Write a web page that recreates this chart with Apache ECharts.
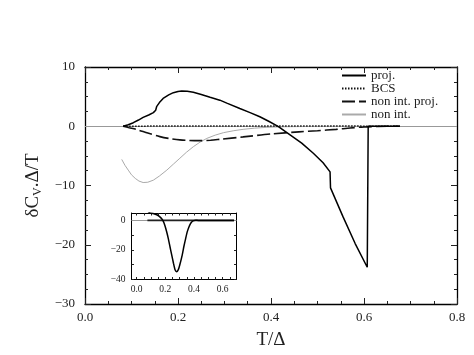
<!DOCTYPE html>
<html><head><meta charset="utf-8">
<script src="https://cdn.jsdelivr.net/npm/echarts@6/dist/echarts.min.js"></script>
<style>html,body{margin:0;padding:0;background:#fff}#c{width:474px;height:355px}</style>
</head><body><div id="c"></div>
<script>
// ---- data ----
const seriesNames = ['proj.', 'BCS', 'non int. proj.', 'non int.'];
const xTicksMain = [0, 0.2, 0.4, 0.6, 0.8];
const yTicksMain = [-30, -20, -10, 0, 10];
const projData = [[0.082,0],[0.093,0.25],[0.104,0.6],[0.115,1.05],[0.125,1.5],[0.137,1.9],[0.147,2.3],[0.152,2.7],[0.154,3.3],[0.16,4.0],[0.168,4.7],[0.18,5.3],[0.19,5.67],[0.2,5.88],[0.208,5.95],[0.22,5.9],[0.233,5.73],[0.25,5.35],[0.269,4.88],[0.29,4.4],[0.305,3.9],[0.333,3.0],[0.355,2.3],[0.376,1.6],[0.396,0.8],[0.416,-0.05],[0.441,-1.45],[0.466,-2.85],[0.491,-4.55],[0.512,-6.15],[0.527,-7.7],[0.528,-10.4],[0.555,-15.3],[0.581,-19.8],[0.607,-23.8],[0.609,0],[0.677,0]];
const bcsData = [[0.082,0],[0.2,0.05],[0.4,0.05],[0.6,0.02],[0.677,0]];
const nonIntProjData = [[0.082,0],[0.095,-0.25],[0.111,-0.55],[0.135,-1.15],[0.161,-1.75],[0.18,-2.05],[0.204,-2.3],[0.225,-2.4],[0.247,-2.43],[0.27,-2.35],[0.29,-2.2],[0.34,-1.8],[0.4,-1.3],[0.46,-0.95],[0.5,-0.75],[0.54,-0.52],[0.57,-0.3],[0.6,-0.12],[0.63,-0.03],[0.677,0]];
const nonIntData = [[0.079,-5.6],[0.086,-6.6],[0.093,-7.4],[0.1,-8.2],[0.108,-8.8],[0.116,-9.25],[0.125,-9.5],[0.135,-9.45],[0.147,-9.1],[0.16,-8.4],[0.176,-7.4],[0.19,-6.4],[0.204,-5.4],[0.218,-4.4],[0.233,-3.45],[0.248,-2.65],[0.262,-2.05],[0.28,-1.5],[0.298,-1.08],[0.32,-0.75],[0.34,-0.52],[0.365,-0.32],[0.391,-0.18],[0.43,-0.08],[0.5,-0.02],[0.677,0]];
// inset
const insetCurve = [[0.075,6.5],[0.093,5.1],[0.115,4.6],[0.14,3.8],[0.16,2.6],[0.175,1.1],[0.187,-0.8],[0.197,-3.4],[0.209,-7.5],[0.221,-12.3],[0.233,-18],[0.245,-23.5],[0.257,-29],[0.268,-33.4],[0.279,-34.7],[0.29,-33.5],[0.3,-30.5],[0.318,-23.5],[0.33,-17.5],[0.342,-12.3],[0.353,-7.8],[0.365,-4.5],[0.375,-2.4],[0.384,-1.1],[0.398,-0.2],[0.412,0.1],[0.43,0],[0.68,0]];
const insetFlat = [[0.075,0],[0.68,0]];
const insetXLabels = [0, 0.2, 0.4, 0.6];
const insetXTicks = [0,0.05,0.1,0.15,0.2,0.25,0.3,0.35,0.4,0.45,0.5,0.55,0.6,0.65];
const insetYLabels = [-40, -20, 0];
const insetYTicks = [-40, -30, -20, -10, 0];

const serif = 'Liberation Serif';
const minus = v => String(v).replace('-', '\u2212');
const chart = echarts.init(document.getElementById('c'), null, {renderer: 'canvas'});
const tickCol = '#222';
function mainX(pos, showLabel) {
  return {
    type: 'value', gridIndex: 0, position: pos, min: 0, max: 0.8, interval: 0.2,
    axisLine: {show: true, onZero: false, lineStyle: {color: '#000', width: 1.3}},
    axisTick: {show: true, inside: true, length: 6, lineStyle: {color: tickCol}},
    minorTick: {show: true, splitNumber: 4, length: 3, lineStyle: {color: tickCol}},
    splitLine: {show: false},
    axisLabel: {show: showLabel, margin: 7, fontFamily: serif, fontSize: 13, color: '#222', formatter: v => v.toFixed(1)},
    name: showLabel ? 'T/\u0394' : '', nameLocation: 'middle', nameGap: 27,
    nameTextStyle: {fontFamily: serif, fontSize: 19, color: '#222'}
  };
}
function mainY(pos, showLabel) {
  return {
    type: 'value', gridIndex: 0, position: pos, min: -30, max: 10, interval: 10,
    axisLine: {show: true, onZero: false, lineStyle: {color: '#000', width: 1.3}},
    axisTick: {show: true, inside: true, length: 6, lineStyle: {color: tickCol}},
    minorTick: {show: true, splitNumber: 4, length: 3, lineStyle: {color: tickCol}},
    splitLine: {show: false},
    axisLabel: {show: showLabel, margin: 10, fontFamily: serif, fontSize: 13, color: '#222', formatter: minus},
    name: showLabel ? '{a|\u03b4C}{s|V}{a|.\u0394/T}' : '', nameLocation: 'middle', nameGap: 41, nameRotate: 90,
    nameTextStyle: {rich: {
      a: {fontFamily: serif, fontSize: 19, color: '#222'},
      s: {fontFamily: serif, fontSize: 12, color: '#222', padding: [9, 0, 0, 0]}
    }}
  };
}
function insetX(pos, showLabel) {
  return {
    type: 'value', gridIndex: 1, position: pos, min: -0.036, max: 0.697,
    axisLine: {show: true, onZero: false, lineStyle: {color: '#000', width: 1}},
    axisTick: {show: true, inside: true, length: 2.5, customValues: insetXTicks, lineStyle: {color: tickCol}},
    splitLine: {show: false},
    axisLabel: {show: showLabel, margin: 5, fontFamily: serif, fontSize: 9.5, color: '#222', customValues: insetXLabels, formatter: v => v.toFixed(1)}
  };
}
function insetY(pos, showLabel) {
  return {
    type: 'value', gridIndex: 1, position: pos, min: -40, max: 5,
    axisLine: {show: true, onZero: false, lineStyle: {color: '#000', width: 1}},
    axisTick: {show: true, inside: true, length: 2.5, customValues: insetYTicks, lineStyle: {color: tickCol}},
    splitLine: {show: false},
    axisLabel: {show: showLabel, margin: 6, fontFamily: serif, fontSize: 9.5, color: '#222', customValues: insetYLabels, formatter: minus}
  };
}
const zeroLine = {silent: true, z: 1, symbol: 'none', label: {show: false}, lineStyle: {color: '#999', width: 1, type: 'solid'}, data: [{yAxis: 0}]};
chart.setOption({
  animation: false,
  backgroundColor: '#fff',
  grid: [
    {left: 85, top: 67, right: 17, bottom: 51},
    {left: 131.5, top: 213, width: 105, height: 66.5}
  ],
  xAxis: [mainX('bottom', true), mainX('top', false), insetX('bottom', true), insetX('top', false)],
  yAxis: [mainY('left', true), mainY('right', false), insetY('left', true), insetY('right', false)],
  legend: {
    orient: 'vertical', left: 341, top: 69, padding: 0, itemWidth: 24, itemHeight: 10, itemGap: 0,
    itemStyle: {opacity: 0, borderWidth: 0},
    textStyle: {fontFamily: serif, fontSize: 13, color: '#222', lineHeight: 12.3},
    data: seriesNames
  },
  series: [
    {name: 'zero', type: 'line', z: 1, xAxisIndex: 0, yAxisIndex: 0, data: [], markLine: zeroLine},
    {name: seriesNames[3], type: 'line', xAxisIndex: 0, yAxisIndex: 0, symbol: 'none', data: nonIntData,
     lineStyle: {color: '#aaa', width: 1}, itemStyle: {color: '#aaa'}},
    {name: seriesNames[2], type: 'line', xAxisIndex: 0, yAxisIndex: 0, symbol: 'none', data: nonIntProjData, smooth: 0.3,
     lineStyle: {color: '#111', width: 1.6, type: [13, 4]}, itemStyle: {color: '#111'}},
    {name: seriesNames[1], type: 'line', xAxisIndex: 0, yAxisIndex: 0, symbol: 'none', data: bcsData,
     lineStyle: {color: '#111', width: 1.5, type: [1.5, 1.5]}, itemStyle: {color: '#111'}},
    {name: seriesNames[0], type: 'line', xAxisIndex: 0, yAxisIndex: 0, symbol: 'none', data: projData,
     lineStyle: {color: '#000', width: 1.5}, itemStyle: {color: '#000'}},
    {name: 'inset zero', type: 'line', z: 1, xAxisIndex: 2, yAxisIndex: 2, data: [], markLine: zeroLine},
    {name: 'inset flat', type: 'line', z: 3, xAxisIndex: 2, yAxisIndex: 2, symbol: 'none', data: insetFlat,
     lineStyle: {color: '#222', width: 1.8}},
    {name: 'inset curve', type: 'line', z: 3, xAxisIndex: 2, yAxisIndex: 2, symbol: 'none', data: insetCurve, smooth: 0.2,
     lineStyle: {color: '#000', width: 1.5}}
  ]
});
</script></body></html>
